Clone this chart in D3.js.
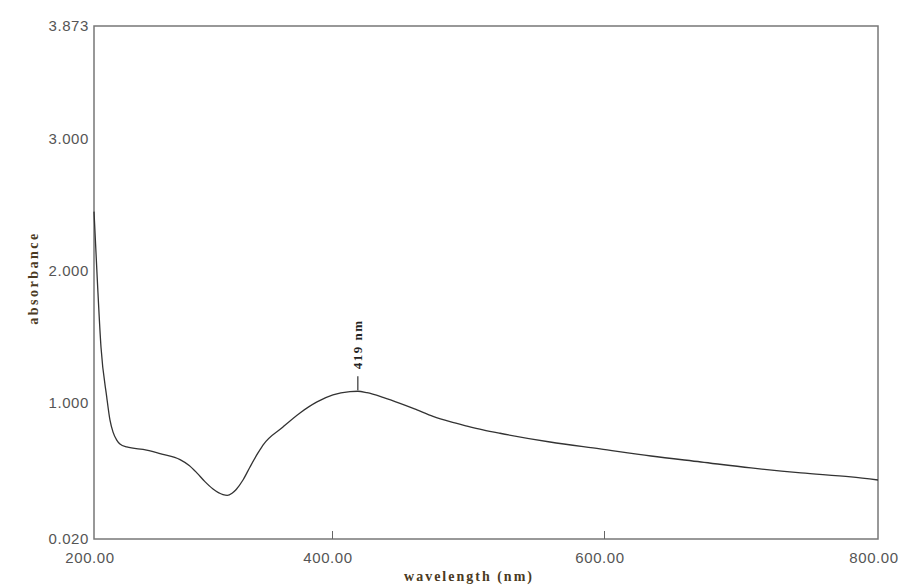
<!DOCTYPE html>
<html>
<head>
<meta charset="utf-8">
<script src="https://cdn.jsdelivr.net/npm/d3@7"></script>
<style>
  body { margin: 0; background: #fff; }
  svg { display: block; }
</style>
</head>
<body>
<div id="chart"></div>
<script>
var width = 912, height = 586

// wavelength (nm) / absorbance
var wavelength = [200, 202.8, 205.9, 210.7, 213.4, 216, 219.1, 221.8, 227.5, 244.2, 257, 272.3, 280, 286.6, 293, 300, 308.4, 312, 316, 319.5, 325.2, 331.1, 337.8, 342, 358.8, 373.1, 387.4, 400.7, 413.2, 419, 425.7, 437.5, 450, 462.5, 474.3, 486.8, 499.3, 511, 523.5, 560.3, 597.1, 634.3, 670.8, 707.3, 743.8, 780.3, 800]
var absorbance = [2.45, 1.93, 1.42, 1.045, 0.878, 0.79, 0.733, 0.705, 0.683, 0.661, 0.632, 0.592, 0.55, 0.495, 0.435, 0.38, 0.34, 0.335, 0.35, 0.377, 0.445, 0.539, 0.64, 0.697, 0.827, 0.928, 1.008, 1.061, 1.086, 1.089, 1.078, 1.043, 0.998, 0.95, 0.903, 0.865, 0.834, 0.807, 0.782, 0.719, 0.669, 0.618, 0.575, 0.532, 0.496, 0.467, 0.445]

var xTicks = [200, 400, 600, 800]
var xTickLabels = ['200.00', '400.00', '600.00', '800.00']
var yTicks = [0.02, 1, 2, 3, 3.873]
var yTickLabels = ['0.020', '1.000', '2.000', '3.000', '3.873']
var peak = 419

var data = wavelength.map((d, i) => ({ x: d, y: absorbance[i] }))

var svg = d3.select('#chart')
  .append('svg')
  .attr('width', width)
  .attr('height', height)

// the original plot is not evenly spaced, so piecewise scales
var xScale = d3.scaleLinear()
  .domain(xTicks)
  .range([94, 332, 604, 878])

var yScale = d3.scaleLinear()
  .domain(yTicks)
  .range([539, 403, 271, 139, 26])

// frame
svg.append('rect')
  .attr('x', xScale(200))
  .attr('y', yScale(3.873))
  .attr('width', xScale(800) - xScale(200))
  .attr('height', yScale(0.02) - yScale(3.873))
  .attr('fill', 'none')
  .attr('stroke', '#777')
  .attr('stroke-width', 1.5)

// inner ticks on x axis
var xAxis = d3.axisBottom(xScale)
  .tickValues([400, 600])
  .tickSize(-8)
  .tickFormat('')

svg.append('g')
  .attr('transform', `translate(0,${yScale(0.02)})`)
  .call(xAxis)
  .call(g => g.select('.domain').remove())
  .selectAll('line')
  .attr('stroke', '#666')

// tick labels
svg.selectAll('.xlab')
  .data(xTicks)
  .enter()
  .append('text')
  .attr('class', 'xlab')
  .attr('x', d => xScale(d) - 4)
  .attr('y', yScale(0.02) + 24)
  .attr('text-anchor', 'middle')
  .attr('font-family', 'Liberation Sans, Arial, sans-serif')
  .attr('font-size', '15px')
  .attr('letter-spacing', '0.6px')
  .attr('fill', '#555')
  .text((d, i) => xTickLabels[i])

svg.selectAll('.ylab')
  .data(yTicks)
  .enter()
  .append('text')
  .attr('class', 'ylab')
  .attr('x', xScale(200) - 5)
  .attr('y', d => yScale(d) + 5)
  .attr('text-anchor', 'end')
  .attr('font-family', 'Liberation Sans, Arial, sans-serif')
  .attr('font-size', '15px')
  .attr('letter-spacing', '0.6px')
  .attr('fill', '#555')
  .text((d, i) => yTickLabels[i])

// axis titles
svg.append('text')
  .attr('x', 469)
  .attr('y', 581)
  .attr('text-anchor', 'middle')
  .attr('font-family', 'Liberation Serif, Times New Roman, serif')
  .attr('font-weight', 'bold')
  .attr('font-size', '14px')
  .attr('letter-spacing', '2px')
  .attr('fill', '#4a3a22')
  .text('wavelength (nm)')

svg.append('text')
  .attr('transform', 'translate(38,278) rotate(-90)')
  .attr('text-anchor', 'middle')
  .attr('font-family', 'Liberation Serif, Times New Roman, serif')
  .attr('font-weight', 'bold')
  .attr('font-size', '14px')
  .attr('letter-spacing', '2.5px')
  .attr('fill', '#4a3a22')
  .text('absorbance')

// spectrum
var line = d3.line()
  .x(d => xScale(d.x))
  .y(d => yScale(d.y))
  .curve(d3.curveMonotoneX)

svg.append('path')
  .datum(data)
  .attr('d', line)
  .attr('fill', 'none')
  .attr('stroke', '#333')
  .attr('stroke-width', 1.3)

// peak marker
var peakY = yScale(absorbance[wavelength.indexOf(peak)])
svg.append('line')
  .attr('x1', xScale(peak))
  .attr('x2', xScale(peak))
  .attr('y1', peakY - 1)
  .attr('y2', peakY - 15)
  .attr('stroke', '#333')
  .attr('stroke-width', 1.2)

svg.append('text')
  .attr('transform', `translate(${xScale(peak) + 4},${peakY - 22}) rotate(-90)`)
  .attr('font-family', 'Liberation Serif, Times New Roman, serif')
  .attr('font-weight', 'bold')
  .attr('font-size', '13px')
  .attr('letter-spacing', '1.5px')
  .attr('fill', '#222')
  .text(peak + ' nm')
</script>
</body>
</html>
